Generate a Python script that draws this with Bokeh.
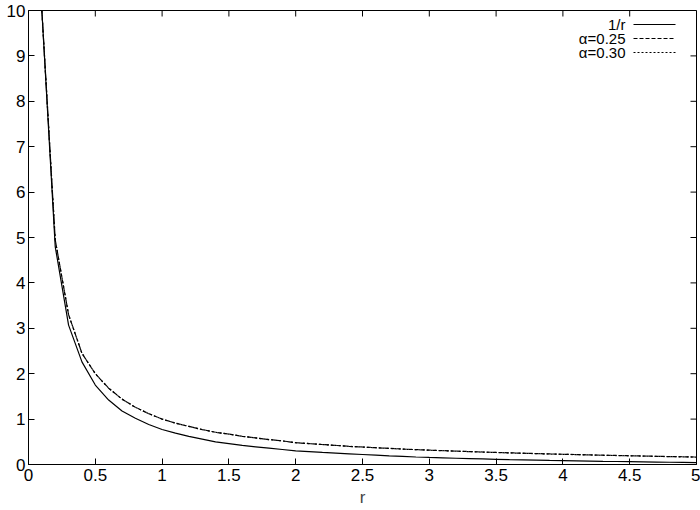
from bokeh.plotting import figure
from bokeh.models import Range1d, LinearAxis, FixedTicker, Label, Arrow
from bokeh.embed import file_html
from bokeh.resources import INLINE

# ---- data ----
r = [0.1, 0.2, 0.3, 0.4, 0.5, 0.6, 0.7, 0.8, 0.9, 1.0,
     1.1, 1.2, 1.3, 1.4, 1.5, 1.6, 1.7, 1.8, 1.9, 2.0,
     2.1, 2.2, 2.3, 2.4, 2.5, 2.6, 2.7, 2.8, 2.9, 3.0,
     3.1, 3.2, 3.3, 3.4, 3.5, 3.6, 3.7, 3.8, 3.9, 4.0,
     4.1, 4.2, 4.3, 4.4, 4.5, 4.6, 4.7, 4.8, 4.9, 5.0]

inv_r = [10.0, 4.80, 3.07, 2.26, 1.75, 1.42, 1.18, 1.02, 0.88, 0.77,
         0.69, 0.62, 0.56, 0.50, 0.46, 0.42, 0.39, 0.36, 0.33, 0.30,
         0.285, 0.265, 0.25, 0.235, 0.22, 0.205, 0.19, 0.18, 0.165, 0.155,
         0.146, 0.138, 0.130, 0.122, 0.115, 0.108, 0.102, 0.096, 0.090, 0.085,
         0.080, 0.075, 0.070, 0.066, 0.062, 0.058, 0.054, 0.050, 0.046, 0.043]

alpha_025 = [10.0, 4.95, 3.30, 2.45, 2.00, 1.68, 1.44, 1.26, 1.12, 1.00,
             0.91, 0.84, 0.77, 0.71, 0.67, 0.62, 0.585, 0.55, 0.52, 0.48,
             0.46, 0.44, 0.42, 0.40, 0.385, 0.37, 0.355, 0.34, 0.328, 0.316,
             0.305, 0.295, 0.285, 0.275, 0.266, 0.257, 0.249, 0.241, 0.233, 0.226,
             0.219, 0.212, 0.205, 0.199, 0.193, 0.187, 0.181, 0.175, 0.170, 0.165]

alpha_030 = [10.0, 4.95, 3.30, 2.45, 2.00, 1.68, 1.44, 1.26, 1.12, 1.00,
             0.91, 0.84, 0.77, 0.71, 0.67, 0.62, 0.585, 0.55, 0.52, 0.48,
             0.46, 0.44, 0.42, 0.40, 0.384, 0.369, 0.354, 0.339, 0.327, 0.315,
             0.304, 0.293, 0.283, 0.273, 0.264, 0.255, 0.247, 0.239, 0.231, 0.224,
             0.217, 0.210, 0.203, 0.197, 0.191, 0.185, 0.179, 0.173, 0.168, 0.163]

series_labels = ["1/r", "\u03b1=0.25", "\u03b1=0.30"]
series_dash = ["solid", "4 2", "2 2"]

x_ticks = [0, 0.5, 1, 1.5, 2, 2.5, 3, 3.5, 4, 4.5, 5]
x_tick_labels = ["0", "0.5", "1", "1.5", "2", "2.5", "3", "3.5", "4", "4.5", "5"]
y_ticks = [0, 1, 2, 3, 4, 5, 6, 7, 8, 9, 10]
y_tick_labels = ["0", "1", "2", "3", "4", "5", "6", "7", "8", "9", "10"]

X_MIN, X_MAX = 0, 5
Y_MIN, Y_MAX = 0, 10

FONT = "Liberation Sans"
W, H = 700, 510
BL, BR, BT, BB = 28, 4, 10, 46
FRAME_W = W - BL - BR
FRAME_H = H - BT - BB
TICK = 6

p = figure(width=W, height=H, output_backend="svg", toolbar_location=None,
           x_range=Range1d(X_MIN, X_MAX), y_range=Range1d(Y_MIN, Y_MAX),
           x_axis_location=None, y_axis_location=None,
           min_border_left=BL, min_border_right=BR, min_border_top=BT, min_border_bottom=BB)
p.xgrid.visible = False
p.ygrid.visible = False
p.outline_line_color = "black"
p.outline_line_width = 1
p.background_fill_color = "white"
p.border_fill_color = "white"


def style_axis(ax, ticks, labels):
    ax.ticker = FixedTicker(ticks=ticks)
    ax.major_label_overrides = {t: l for t, l in zip(ticks, labels)}
    ax.major_tick_in = TICK
    ax.major_tick_out = 0
    ax.minor_tick_line_color = None
    ax.axis_line_color = "black"
    ax.major_tick_line_color = "black"
    ax.major_label_text_font = FONT
    ax.major_label_text_font_size = "17px"
    ax.major_label_text_color = "black"


xb = LinearAxis(axis_label="r")
style_axis(xb, x_ticks, x_tick_labels)
xb.major_label_standoff = 4
xb.axis_label_text_font = FONT
xb.axis_label_text_font_size = "17px"
xb.axis_label_text_font_style = "normal"
xb.axis_label_standoff = 4
p.add_layout(xb, "below")

yl = LinearAxis()
style_axis(yl, y_ticks, y_tick_labels)
yl.major_label_standoff = 3
p.add_layout(yl, "left")

# mirrored inward ticks on the top and right borders (gnuplot style)
ty = TICK * (Y_MAX - Y_MIN) / FRAME_H
tx = TICK * (X_MAX - X_MIN) / FRAME_W
p.segment(x0=x_ticks, y0=[Y_MAX] * len(x_ticks), x1=x_ticks, y1=[Y_MAX - ty] * len(x_ticks),
          line_color="black", line_width=1)
p.segment(x0=[X_MAX] * len(y_ticks), y0=y_ticks, x1=[X_MAX - tx] * len(y_ticks), y1=y_ticks,
          line_color="black", line_width=1)

p.line(r, inv_r, line_color="black", line_width=1.2, line_dash=series_dash[0])
p.line(r, alpha_025, line_color="black", line_width=1.2, line_dash=series_dash[1])
p.line(r, alpha_030, line_color="black", line_width=1.2, line_dash=series_dash[2])

# gnuplot-style key: text right-aligned, line sample to its right (screen units in frame)
row_y = [440, 426, 412]
for txt, dash, yy in zip(series_labels, series_dash, row_y):
    p.add_layout(Label(x=597, y=yy, x_units="screen", y_units="screen", text=txt,
                       text_align="right", text_baseline="middle",
                       text_font=FONT, text_font_size="15px", text_color="black"))
    p.add_layout(Arrow(x_start=605, y_start=yy, x_end=647, y_end=yy,
                       start_units="screen", end_units="screen", start=None, end=None,
                       line_color="black", line_width=1.2, line_dash=dash))

open("out.html", "w").write(file_html(p, INLINE))
